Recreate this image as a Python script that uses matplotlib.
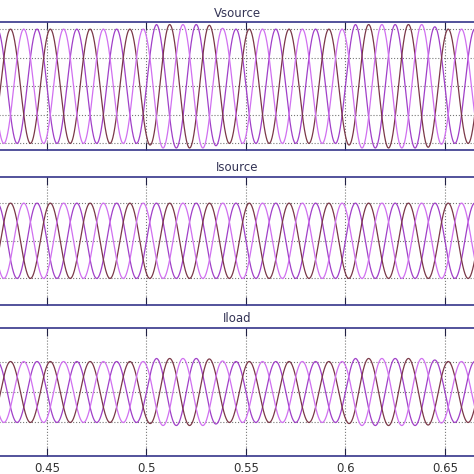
import numpy as np
import matplotlib.pyplot as plt

# time window and supply
t_start, t_end = 0.424, 0.667
freq_hz = 50.0
phase_deg = [0, -120, 120]
phase_colors = ['#a040c8', '#7a3848', '#d070f0']

# amplitude envelopes (time knots, amplitude)
env_t = [0.424, 0.50, 0.505, 0.53, 0.54, 0.60, 0.605, 0.64, 0.65, 0.667]
vsource_amp = [1.0, 1.0, 1.08, 1.08, 1.0, 1.0, 1.08, 1.08, 1.0, 1.0]
isource_amp = [1.0, 1.0, 1.0, 1.0, 1.0, 1.0, 1.0, 1.0, 1.0, 1.0]
iload_amp = [1.0, 1.0, 1.1, 1.1, 1.0, 1.0, 1.1, 1.1, 1.0, 1.0]

panels = [
    ('Vsource', vsource_amp, (-1.12, 1.12), [-1, -0.5, 0, 0.5, 1]),
    ('Isource', isource_amp, (-1.7, 1.7), [-1, 0, 1]),
    ('Iload', iload_amp, (-2.1, 2.1), [-1, 0, 1]),
]
xticks = [0.45, 0.5, 0.55, 0.6, 0.65]
xticklabels = ['0.45', '0.5', '0.55', '0.6', '0.65']

t = np.linspace(t_start, t_end, 6000)
fig = plt.figure(figsize=(4.74, 4.74), dpi=100)
tops = [0.953, 0.627, 0.308]
height = 0.27
spine_col = '#35358a'

for (title, amp, ylim, yt), top in zip(panels, tops):
    ax = fig.add_axes([-0.01, top - height, 1.02, height])
    env = np.interp(t, env_t, amp)
    for ph, c in zip(phase_deg, phase_colors):
        ax.plot(t, env * np.sin(2 * np.pi * freq_hz * t + np.deg2rad(ph)), color=c, lw=0.9)
    ax.set_xlim(t_start, t_end)
    ax.set_ylim(*ylim)
    ax.set_xticks(xticks)
    ax.set_yticks(yt)
    ax.set_yticklabels([])
    ax.grid(True, linestyle=':', color='#777777', lw=0.8)
    ax.tick_params(axis='x', direction='in', length=6, top=True, color='#222244', labelsize=8.5, pad=4, labelcolor='#333333')
    ax.tick_params(axis='y', length=0)
    for s in ax.spines.values():
        s.set_color(spine_col)
        s.set_linewidth(1.2)
    if title == 'Iload':
        ax.set_xticklabels(xticklabels)
    else:
        ax.set_xticklabels([])
    ax.set_title(title, fontsize=8.5, color='#333355', pad=4)

fig.savefig('out.png', dpi=100)
